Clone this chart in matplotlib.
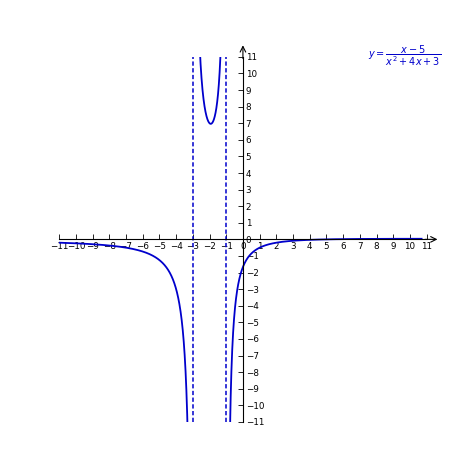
import numpy as np
import matplotlib
matplotlib.use('Agg')
import matplotlib.pyplot as plt

# y = (x - 5) / (x^2 + 4x + 3)
num_coef = [1, -5]
den_coef = [1, 4, 3]
asymptotes = [-3, -1]
ticks = list(range(-11, 12))
x_range = (-11, 10.7)
formula = r'$y=\dfrac{x-5}{x^2+4x+3}$'

fig = plt.figure(figsize=(4.74, 4.74), dpi=100)
ax = fig.add_subplot(111)

x = np.linspace(x_range[0], x_range[1], 4000)
y = np.polyval(num_coef, x) / np.polyval(den_coef, x)
# cut at the poles so the branches are not joined
for a in asymptotes:
    y[np.abs(x - a) < 0.004] = np.nan
ax.plot(x, y, color='#0000cc', lw=1.3)

for a in asymptotes:
    ax.axvline(a, color='#0000cc', ls='--', lw=1.1, dashes=(2.8, 1.6))

ax.set_xlim(-11, 11)
ax.set_ylim(-11, 11)

ax.spines['left'].set_visible(False)
ax.spines['top'].set_visible(False)
ax.spines['right'].set_position(('data', 0))
ax.spines['bottom'].set_position(('data', 0))
ax.spines['right'].set_linewidth(0.8)
ax.spines['bottom'].set_linewidth(0.8)
ax.yaxis.tick_right()
ax.xaxis.tick_bottom()
ax.set_xticks(ticks)
ax.set_yticks(ticks)
ax.tick_params(direction='in', length=3.5, width=0.6, labelsize=6.3, pad=2)

# arrow heads
ax.annotate('', xy=(11.65, 0), xytext=(10.9, 0), annotation_clip=False,
            arrowprops=dict(arrowstyle='->', lw=0.8, color='black', shrinkA=0, shrinkB=0))
ax.annotate('', xy=(0, 11.7), xytext=(0, 10.9), annotation_clip=False,
            arrowprops=dict(arrowstyle='->', lw=0.8, color='black', shrinkA=0, shrinkB=0))

ax.text(9.7, 11.05, formula, color='#0000cc', fontsize=7, ha='center', va='center')

plt.savefig('out.png', dpi=100)
